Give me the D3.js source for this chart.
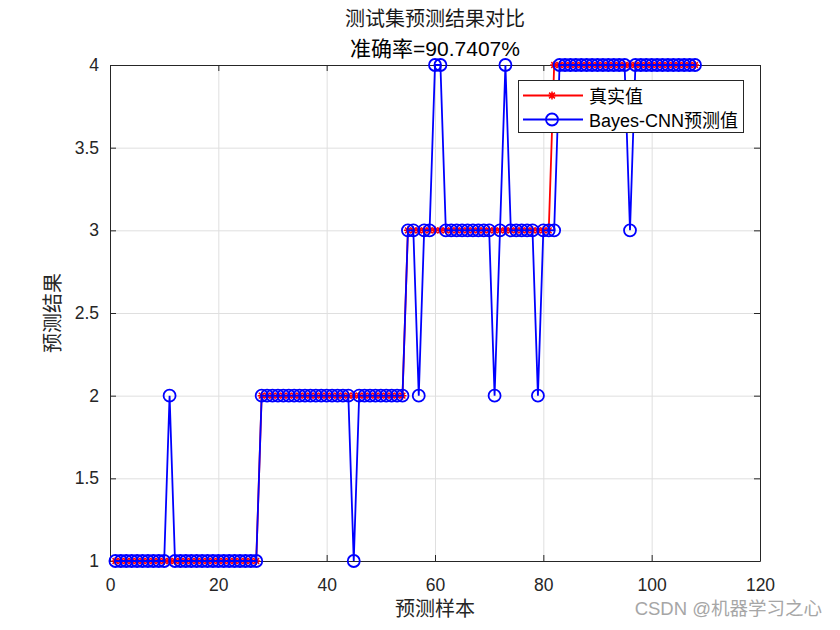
<!DOCTYPE html>
<html>
<head>
<meta charset="utf-8">
<script src="https://cdn.jsdelivr.net/npm/d3@7"></script>
<style>
  html, body { margin: 0; padding: 0; background: #fff; }
  svg text { font-family: "Liberation Sans", Arial, "Noto Sans CJK SC", sans-serif; }
</style>
</head>
<body>
<svg id="chart" width="840" height="630"></svg>
<script>
// ---- data ----
const titleLine1 = "测试集预测结果对比";
const titleLine2 = "准确率=90.7407%";
const xLabel = "预测样本";
const yLabel = "预测结果";
const seriesNames = ["真实值", "Bayes-CNN预测值"];
const xTicks = [0, 20, 40, 60, 80, 100, 120];
const yTicks = [1, 1.5, 2, 2.5, 3, 3.5, 4];
const yTickLabels = ["1", "1.5", "2", "2.5", "3", "3.5", "4"];

const trueVals = [
  1,1,1,1,1,1,1,1,1,1,
  1,1,1,1,1,1,1,1,1,1,
  1,1,1,1,1,1,1,2,2,2,
  2,2,2,2,2,2,2,2,2,2,
  2,2,2,2,2,2,2,2,2,2,
  2,2,2,2,3,3,3,3,3,3,
  3,3,3,3,3,3,3,3,3,3,
  3,3,3,3,3,3,3,3,3,3,
  3,4,4,4,4,4,4,4,4,4,
  4,4,4,4,4,4,4,4,4,4,
  4,4,4,4,4,4,4,4
];
const predVals = [
  1,1,1,1,1,1,1,1,1,1,
  2,1,1,1,1,1,1,1,1,1,
  1,1,1,1,1,1,1,2,2,2,
  2,2,2,2,2,2,2,2,2,2,
  2,2,2,2,1,2,2,2,2,2,
  2,2,2,2,3,3,2,3,3,4,
  4,3,3,3,3,3,3,3,3,3,
  2,3,4,3,3,3,3,3,2,3,
  3,3,4,4,4,4,4,4,4,4,
  4,4,4,4,4,3,4,4,4,4,
  4,4,4,4,4,4,4,4
];

// ---- layout ----
const svg = d3.select("#chart");
const L = 110, R = 760, T = 65, B = 561;
const x = d3.scaleLinear().domain([0, 120]).range([L, R]);
const y = d3.scaleLinear().domain([1, 4]).range([B, T]);
const tickColor = "#262626";

// grid
const grid = svg.append("g");
grid.append("g").attr("transform", `translate(0,${B})`)
  .call(d3.axisBottom(x).tickValues(xTicks).tickSizeInner(-(B - T)).tickSizeOuter(0).tickFormat(""))
  .call(g => g.select(".domain").remove())
  .call(g => g.selectAll("line").attr("stroke", "#dfdfdf").attr("stroke-width", 1));
grid.append("g").attr("transform", `translate(${L},0)`)
  .call(d3.axisLeft(y).tickValues(yTicks).tickSizeInner(-(R - L)).tickSizeOuter(0).tickFormat(""))
  .call(g => g.select(".domain").remove())
  .call(g => g.selectAll("line").attr("stroke", "#dfdfdf").attr("stroke-width", 1));

// axes
function styleAxis(g) {
  g.select(".domain").attr("stroke", tickColor).attr("stroke-width", 1);
  g.selectAll(".tick line").attr("stroke", tickColor);
  g.selectAll("text").attr("fill", tickColor).style("font-size", "17.5px");
}
svg.append("g").attr("transform", `translate(0,${B})`)
  .call(d3.axisBottom(x).tickValues(xTicks).tickSizeInner(-6).tickSizeOuter(0).tickPadding(18).tickFormat(d3.format("d")))
  .call(styleAxis);
svg.append("g").attr("transform", `translate(0,${T})`)
  .call(d3.axisTop(x).tickValues(xTicks).tickSizeInner(-6).tickSizeOuter(0).tickFormat(""))
  .call(styleAxis);
svg.append("g").attr("transform", `translate(${L},0)`)
  .call(d3.axisLeft(y).tickValues(yTicks).tickSizeInner(-6).tickSizeOuter(0).tickPadding(11)
    .tickFormat((d, i) => yTickLabels[i]))
  .call(styleAxis);
svg.append("g").attr("transform", `translate(${R},0)`)
  .call(d3.axisRight(y).tickValues(yTicks).tickSizeInner(-6).tickSizeOuter(0).tickFormat(""))
  .call(styleAxis);

// star marker path (MATLAB '*')
function starPath(s) {
  const d = s * 0.72;
  return `M${-s},0L${s},0M0,${-s}L0,${s}M${-d},${-d}L${d},${d}M${-d},${d}L${d},${-d}`;
}

const line = d3.line().x((d, i) => x(i + 1)).y(d => y(d));

// true series
svg.append("path").datum(trueVals).attr("d", line)
  .attr("fill", "none").attr("stroke", "#ff0000").attr("stroke-width", 1.8);
svg.append("g").selectAll("path").data(trueVals).join("path")
  .attr("transform", (d, i) => `translate(${x(i + 1)},${y(d)})`)
  .attr("d", starPath(4)).attr("stroke", "#ff0000").attr("stroke-width", 1.5).attr("fill", "none");

// predicted series
svg.append("path").datum(predVals).attr("d", line)
  .attr("fill", "none").attr("stroke", "#0000ff").attr("stroke-width", 1.8);
svg.append("g").selectAll("circle").data(predVals).join("circle")
  .attr("cx", (d, i) => x(i + 1)).attr("cy", d => y(d)).attr("r", 6)
  .attr("fill", "none").attr("stroke", "#0000ff").attr("stroke-width", 1.8);

// titles & labels
svg.append("text").attr("x", (L + R) / 2).attr("y", 19).attr("text-anchor", "middle")
  .attr("dominant-baseline", "central").style("font-size", "20px").attr("fill", "#1a1a1a").text(titleLine1);
svg.append("text").attr("x", (L + R) / 2).attr("y", 48).attr("text-anchor", "middle")
  .attr("dominant-baseline", "central").style("font-size", "21px").attr("fill", "#000").text(titleLine2);
svg.append("text").attr("x", (L + R) / 2).attr("y", 609).attr("text-anchor", "middle")
  .attr("dominant-baseline", "central").style("font-size", "20px").attr("fill", tickColor).text(xLabel);
svg.append("text").attr("transform", `translate(53,${(T + B) / 2}) rotate(-90)`).attr("text-anchor", "middle")
  .attr("dominant-baseline", "central").style("font-size", "20px").attr("fill", tickColor).text(yLabel);

// legend
const lg = svg.append("g");
lg.append("rect").attr("x", 518.5).attr("y", 80.5).attr("width", 225).attr("height", 52)
  .attr("fill", "#fff").attr("stroke", "#262626").attr("stroke-width", 1);
const legendRows = [
  { name: seriesNames[0], color: "#ff0000", marker: "star", yy: 95.5 },
  { name: seriesNames[1], color: "#0000ff", marker: "circle", yy: 119.5 }
];
legendRows.forEach(r => {
  lg.append("line").attr("x1", 523).attr("x2", 583).attr("y1", r.yy).attr("y2", r.yy)
    .attr("stroke", r.color).attr("stroke-width", 1.8);
  if (r.marker === "star") {
    lg.append("path").attr("transform", `translate(552,${r.yy})`).attr("d", starPath(4))
      .attr("stroke", r.color).attr("stroke-width", 1.5).attr("fill", "none");
  } else {
    lg.append("circle").attr("cx", 552).attr("cy", r.yy).attr("r", 6)
      .attr("fill", "none").attr("stroke", r.color).attr("stroke-width", 1.8);
  }
  lg.append("text").attr("x", 589).attr("y", r.yy + 1).attr("dominant-baseline", "central")
    .style("font-size", "18px").attr("fill", "#000").text(r.name);
});

// watermark
svg.append("text").attr("x", 822).attr("y", 608).attr("text-anchor", "end")
  .attr("dominant-baseline", "central").style("font-size", "18.5px").attr("fill", "#a6a6a6")
  .text("CSDN @机器学习之心");
</script>
</body>
</html>
